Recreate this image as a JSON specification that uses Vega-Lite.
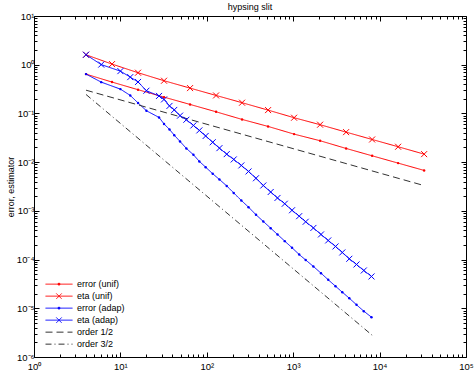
{
  "$schema": "https://vega.github.io/schema/vega-lite/v6.json",
  "width": 432,
  "height": 341,
  "autosize": "none",
  "padding": {"left": 34, "top": 16, "right": 8, "bottom": 14},
  "background": "white",
  "title": {"text": "hypsing slit", "fontSize": 9, "fontWeight": "normal", "font": "Liberation Sans", "color": "black", "offset": -1, "anchor": "middle"},
  "config": {
    "view": {"stroke": "black", "strokeWidth": 1},
    "font": "Liberation Sans",
    "legend": {
      "orient": "none", "legendX": 11, "legendY": 262.5, "padding": 0,
      "symbolSize": 729, "symbolStrokeWidth": 1, "clipHeight": 11.3, "rowPadding": 0,
      "labelFontSize": 9, "labelFont": "Liberation Sans", "labelColor": "black", "labelOffset": 4
    }
  },
  "data": {"values": [
    {"s": "error (unif)", "x": 4, "y": 0.641},
    {"s": "error (unif)", "x": 8, "y": 0.44},
    {"s": "error (unif)", "x": 16, "y": 0.307},
    {"s": "error (unif)", "x": 32, "y": 0.216},
    {"s": "error (unif)", "x": 64, "y": 0.153},
    {"s": "error (unif)", "x": 128, "y": 0.108},
    {"s": "error (unif)", "x": 256, "y": 0.0753},
    {"s": "error (unif)", "x": 512, "y": 0.0541},
    {"s": "error (unif)", "x": 1024, "y": 0.0376},
    {"s": "error (unif)", "x": 2048, "y": 0.0275},
    {"s": "error (unif)", "x": 4096, "y": 0.0191},
    {"s": "error (unif)", "x": 8192, "y": 0.0135},
    {"s": "error (unif)", "x": 16384, "y": 0.00955},
    {"s": "error (unif)", "x": 32768, "y": 0.00676},
    {"s": "eta (unif)", "x": 4, "y": 1.6},
    {"s": "eta (unif)", "x": 8, "y": 1.03},
    {"s": "eta (unif)", "x": 16, "y": 0.685},
    {"s": "eta (unif)", "x": 32, "y": 0.469},
    {"s": "eta (unif)", "x": 64, "y": 0.331},
    {"s": "eta (unif)", "x": 128, "y": 0.234},
    {"s": "eta (unif)", "x": 256, "y": 0.166},
    {"s": "eta (unif)", "x": 512, "y": 0.117},
    {"s": "eta (unif)", "x": 1024, "y": 0.0816},
    {"s": "eta (unif)", "x": 2048, "y": 0.0587},
    {"s": "eta (unif)", "x": 4096, "y": 0.0413},
    {"s": "eta (unif)", "x": 8192, "y": 0.0292},
    {"s": "eta (unif)", "x": 16384, "y": 0.0207},
    {"s": "eta (unif)", "x": 32768, "y": 0.0146},
    {"s": "error (adap)", "x": 4, "y": 0.641},
    {"s": "error (adap)", "x": 6, "y": 0.439},
    {"s": "error (adap)", "x": 10, "y": 0.3155},
    {"s": "error (adap)", "x": 13, "y": 0.2342},
    {"s": "error (adap)", "x": 16, "y": 0.1643},
    {"s": "error (adap)", "x": 20, "y": 0.1136},
    {"s": "error (adap)", "x": 28, "y": 0.0828},
    {"s": "error (adap)", "x": 32, "y": 0.0609},
    {"s": "error (adap)", "x": 37, "y": 0.0469},
    {"s": "error (adap)", "x": 42, "y": 0.0358},
    {"s": "error (adap)", "x": 49, "y": 0.0266},
    {"s": "error (adap)", "x": 58, "y": 0.01911},
    {"s": "error (adap)", "x": 70, "y": 0.01419},
    {"s": "error (adap)", "x": 82, "y": 0.01034},
    {"s": "error (adap)", "x": 97, "y": 0.00789},
    {"s": "error (adap)", "x": 117, "y": 0.00578},
    {"s": "error (adap)", "x": 140, "y": 0.00441},
    {"s": "error (adap)", "x": 170, "y": 0.00325},
    {"s": "error (adap)", "x": 205, "y": 0.00233},
    {"s": "error (adap)", "x": 251, "y": 0.001636},
    {"s": "error (adap)", "x": 304, "y": 0.001191},
    {"s": "error (adap)", "x": 371, "y": 0.000832},
    {"s": "error (adap)", "x": 451, "y": 0.000606},
    {"s": "error (adap)", "x": 549, "y": 0.000441},
    {"s": "error (adap)", "x": 658, "y": 0.000328},
    {"s": "error (adap)", "x": 799, "y": 0.000239},
    {"s": "error (adap)", "x": 969, "y": 0.000175},
    {"s": "error (adap)", "x": 1173, "y": 0.000127},
    {"s": "error (adap)", "x": 1395, "y": 0.0000981},
    {"s": "error (adap)", "x": 1713, "y": 0.0000722},
    {"s": "error (adap)", "x": 2098, "y": 0.0000526},
    {"s": "error (adap)", "x": 2542, "y": 0.0000385},
    {"s": "error (adap)", "x": 3088, "y": 0.0000284},
    {"s": "error (adap)", "x": 3701, "y": 0.0000214},
    {"s": "error (adap)", "x": 4460, "y": 0.0000161},
    {"s": "error (adap)", "x": 5403, "y": 0.0000118},
    {"s": "error (adap)", "x": 6563, "y": 0.00000872},
    {"s": "error (adap)", "x": 8058, "y": 0.00000657},
    {"s": "eta (adap)", "x": 4, "y": 1.605},
    {"s": "eta (adap)", "x": 6, "y": 1.005},
    {"s": "eta (adap)", "x": 10, "y": 0.739},
    {"s": "eta (adap)", "x": 13, "y": 0.556},
    {"s": "eta (adap)", "x": 16, "y": 0.443},
    {"s": "eta (adap)", "x": 20, "y": 0.2925},
    {"s": "eta (adap)", "x": 28, "y": 0.2287},
    {"s": "eta (adap)", "x": 32, "y": 0.1939},
    {"s": "eta (adap)", "x": 37, "y": 0.1426},
    {"s": "eta (adap)", "x": 42, "y": 0.118},
    {"s": "eta (adap)", "x": 49, "y": 0.0901},
    {"s": "eta (adap)", "x": 58, "y": 0.0742},
    {"s": "eta (adap)", "x": 70, "y": 0.0567},
    {"s": "eta (adap)", "x": 82, "y": 0.0448},
    {"s": "eta (adap)", "x": 97, "y": 0.0345},
    {"s": "eta (adap)", "x": 117, "y": 0.0256},
    {"s": "eta (adap)", "x": 140, "y": 0.01939},
    {"s": "eta (adap)", "x": 170, "y": 0.0146},
    {"s": "eta (adap)", "x": 205, "y": 0.01136},
    {"s": "eta (adap)", "x": 251, "y": 0.00856},
    {"s": "eta (adap)", "x": 304, "y": 0.00644},
    {"s": "eta (adap)", "x": 371, "y": 0.00467},
    {"s": "eta (adap)", "x": 451, "y": 0.00332},
    {"s": "eta (adap)", "x": 549, "y": 0.00244},
    {"s": "eta (adap)", "x": 658, "y": 0.00184},
    {"s": "eta (adap)", "x": 799, "y": 0.0014},
    {"s": "eta (adap)", "x": 969, "y": 0.001029},
    {"s": "eta (adap)", "x": 1173, "y": 0.000778},
    {"s": "eta (adap)", "x": 1395, "y": 0.000597},
    {"s": "eta (adap)", "x": 1713, "y": 0.000446},
    {"s": "eta (adap)", "x": 2098, "y": 0.000328},
    {"s": "eta (adap)", "x": 2542, "y": 0.000247},
    {"s": "eta (adap)", "x": 3088, "y": 0.000186},
    {"s": "eta (adap)", "x": 3701, "y": 0.00014},
    {"s": "eta (adap)", "x": 4460, "y": 0.0001038},
    {"s": "eta (adap)", "x": 5403, "y": 0.0000793},
    {"s": "eta (adap)", "x": 6563, "y": 0.0000597},
    {"s": "eta (adap)", "x": 8058, "y": 0.000045},
    {"s": "order 1/2", "x": 4, "y": 0.3},
    {"s": "order 1/2", "x": 32768, "y": 0.0033},
    {"s": "order 3/2", "x": 4, "y": 0.245},
    {"s": "order 3/2", "x": 8192, "y": 0.0000028}
  ]},
  "layer": [
    {
      "mark": {"type": "line", "strokeWidth": 1},
      "encoding": {
        "x": {"field": "x", "type": "quantitative",
          "scale": {"type": "log", "domain": [1, 100000], "nice": false},
          "axis": {"orient": "bottom", "title": null, "grid": false, "domain": false,
            "values": [1,2,3,4,5,6,7,8,9,10,20,30,40,50,60,70,80,90,100,200,300,400,500,600,700,800,900,1000,2000,3000,4000,5000,6000,7000,8000,9000,10000,20000,30000,40000,50000,60000,70000,80000,90000,100000],
            "tickColor": "black", "tickWidth": 1,
            "tickSize": {"condition": {"test": "abs(log(datum.value)/LN10 - round(log(datum.value)/LN10)) < 0.001", "value": -5}, "value": -3},
            "labelPadding": 9, "labelFontSize": 9.5, "labelColor": "black", "labelFont": "Liberation Sans",
            "labelOverlap": false, "labelFlush": false,
            "labelExpr": "abs(log(datum.value)/LN10 - round(log(datum.value)/LN10)) < 0.001 ? '10' + (round(log(datum.value)/LN10) < 0 ? '⁻' : '') + substring('⁰¹²³⁴⁵⁶⁷⁸⁹', abs(round(log(datum.value)/LN10)), abs(round(log(datum.value)/LN10)) + 1) : ''"}},
        "y": {"field": "y", "type": "quantitative",
          "scale": {"type": "log", "domain": [0.000001, 10], "nice": false},
          "axis": {"orient": "left", "title": "error, estimator", "titleFontSize": 9, "titleFontWeight": "normal", "titleColor": "black", "titleFont": "Liberation Sans", "titlePadding": 1,
            "grid": false, "domain": false,
            "values": [1e-6,2e-6,3e-6,4e-6,5e-6,6e-6,7e-6,8e-6,9e-6,1e-5,2e-5,3e-5,4e-5,5e-5,6e-5,7e-5,8e-5,9e-5,1e-4,2e-4,3e-4,4e-4,5e-4,6e-4,7e-4,8e-4,9e-4,0.001,0.002,0.003,0.004,0.005,0.006,0.007,0.008,0.009,0.01,0.02,0.03,0.04,0.05,0.06,0.07,0.08,0.09,0.1,0.2,0.3,0.4,0.5,0.6,0.7,0.8,0.9,1,2,3,4,5,6,7,8,9,10],
            "tickColor": "black", "tickWidth": 1,
            "tickSize": {"condition": {"test": "abs(log(datum.value)/LN10 - round(log(datum.value)/LN10)) < 0.001", "value": -5}, "value": -3},
            "labelPadding": 5, "labelFontSize": 9.5, "labelColor": "black", "labelFont": "Liberation Sans",
            "labelOverlap": false, "labelFlush": false,
            "labelExpr": "abs(log(datum.value)/LN10 - round(log(datum.value)/LN10)) < 0.001 ? '10' + (round(log(datum.value)/LN10) < 0 ? '⁻' : '') + substring('⁰¹²³⁴⁵⁶⁷⁸⁹', abs(round(log(datum.value)/LN10)), abs(round(log(datum.value)/LN10)) + 1) : ''"}},
        "color": {"field": "s", "type": "nominal",
          "scale": {"domain": ["error (unif)", "eta (unif)", "error (adap)", "eta (adap)", "order 1/2", "order 3/2"],
                    "range": ["#ff0000", "#ff0000", "#0000ff", "#0000ff", "#333333", "#333333"]},
          "legend": {"title": null}},
        "strokeDash": {"field": "s", "type": "nominal",
          "scale": {"domain": ["error (unif)", "eta (unif)", "error (adap)", "eta (adap)", "order 1/2", "order 3/2"],
                    "range": [[1, 0], [1, 0], [1, 0], [1, 0], [7, 4], [6, 3, 1, 3]]},
          "legend": {"title": null}}
      }
    },
    {
      "transform": [{"filter": "indexof(datum.s, 'eta') == 0"}],
      "mark": {"type": "point", "shape": "M-1,-1L1,1M-1,1L1,-1", "size": 36, "strokeWidth": 1, "filled": false, "opacity": 1},
      "encoding": {
        "x": {"field": "x", "type": "quantitative",
          "axis": {"orient": "top", "title": null, "grid": false, "domain": false, "labels": false,
            "values": [1,2,3,4,5,6,7,8,9,10,20,30,40,50,60,70,80,90,100,200,300,400,500,600,700,800,900,1000,2000,3000,4000,5000,6000,7000,8000,9000,10000,20000,30000,40000,50000,60000,70000,80000,90000,100000],
            "tickColor": "black", "tickWidth": 1,
            "tickSize": {"condition": {"test": "abs(log(datum.value)/LN10 - round(log(datum.value)/LN10)) < 0.001", "value": -5}, "value": -3}}},
        "y": {"field": "y", "type": "quantitative",
          "axis": {"orient": "right", "title": null, "grid": false, "domain": false, "labels": false,
            "values": [1e-6,2e-6,3e-6,4e-6,5e-6,6e-6,7e-6,8e-6,9e-6,1e-5,2e-5,3e-5,4e-5,5e-5,6e-5,7e-5,8e-5,9e-5,1e-4,2e-4,3e-4,4e-4,5e-4,6e-4,7e-4,8e-4,9e-4,0.001,0.002,0.003,0.004,0.005,0.006,0.007,0.008,0.009,0.01,0.02,0.03,0.04,0.05,0.06,0.07,0.08,0.09,0.1,0.2,0.3,0.4,0.5,0.6,0.7,0.8,0.9,1,2,3,4,5,6,7,8,9,10],
            "tickColor": "black", "tickWidth": 1,
            "tickSize": {"condition": {"test": "abs(log(datum.value)/LN10 - round(log(datum.value)/LN10)) < 0.001", "value": -5}, "value": -3}}},
        "color": {"field": "s", "type": "nominal", "legend": {"title": null}}
      }
    },
    {
      "transform": [{"filter": "indexof(datum.s, 'error') == 0"}],
      "mark": {"type": "circle", "size": 6, "opacity": 1},
      "encoding": {
        "x": {"field": "x", "type": "quantitative", "axis": null},
        "y": {"field": "y", "type": "quantitative", "axis": null},
        "color": {"field": "s", "type": "nominal", "legend": {"title": null}}
      }
    },
    {
      "transform": [{"filter": "false"}],
      "mark": {"type": "point", "filled": false, "strokeWidth": 1, "opacity": 1},
      "encoding": {
        "x": {"field": "x", "type": "quantitative", "axis": null},
        "y": {"field": "y", "type": "quantitative", "axis": null},
        "color": {"field": "s", "type": "nominal", "legend": {"title": null}},
        "strokeDash": {"field": "s", "type": "nominal", "legend": {"title": null}},
        "shape": {"field": "s", "type": "nominal",
          "scale": {"domain": ["error (unif)", "eta (unif)", "error (adap)", "eta (adap)", "order 1/2", "order 3/2"],
                    "range": ["M-1,0L1,0M-0.06,-0.06L0.06,-0.06L0.06,0.06L-0.06,0.06Z", "M-1,0L1,0M-0.2,-0.2L0.2,0.2M-0.2,0.2L0.2,-0.2", "M-1,0L1,0M-0.06,-0.06L0.06,-0.06L0.06,0.06L-0.06,0.06Z", "M-1,0L1,0M-0.2,-0.2L0.2,0.2M-0.2,0.2L0.2,-0.2", "M-1,0L1,0", "M-1,0L1,0"]},
          "legend": {"title": null}}
      }
    }
  ],
  "resolve": {"axis": {"x": "independent", "y": "independent"}}
}
